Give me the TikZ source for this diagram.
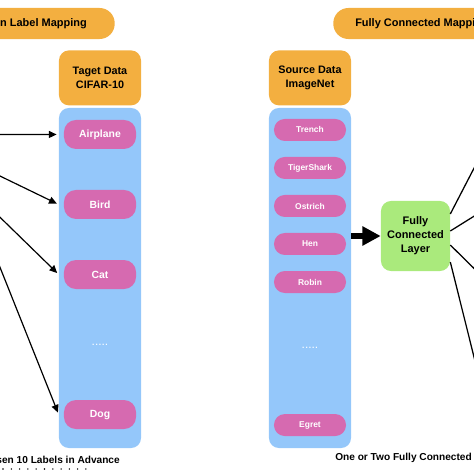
\documentclass[tikz,border=0pt]{standalone}
\usepackage{fontspec}
\setmainfont{Liberation Sans}
\usetikzlibrary{matrix,positioning,arrows.meta}
\definecolor{myorange}{RGB}{243,175,64}
\definecolor{myblue}{RGB}{148,199,250}
\definecolor{mypink}{RGB}{214,106,176}
\definecolor{mygreen}{RGB}{170,234,124}

\begin{document}
\begin{tikzpicture}[x=0.025cm,y=-0.025cm,
  banner/.style={fill=myorange,rounded corners=0.38cm,minimum height=0.775cm,
    inner xsep=0.7cm,inner ysep=0pt,font=\fontsize{7.8}{9}\selectfont\bfseries},
  hdbox/.style={fill=myorange,rounded corners=0.25cm,minimum width=2.05cm,
    minimum height=1.375cm,align=center,font=\fontsize{7.7}{10}\selectfont\bfseries},
  colbox/.style={fill=myblue,rounded corners=0.25cm,minimum width=2.05cm,minimum height=8.5cm},
  pmat/.style={matrix of nodes,inner sep=0pt,
    nodes={fill=mypink,text=white,minimum width=1.8cm}},
  dotsnode/.style={fill=none,font=\fontsize{8.5}{9}\selectfont},
  fcbox/.style={fill=mygreen,rounded corners=0.25cm,minimum width=1.725cm,
    minimum height=1.75cm,align=center,font=\fontsize{7.8}{10}\selectfont\bfseries},
  caption/.style={inner sep=0pt,font=\fontsize{7.2}{9}\selectfont\bfseries},
  farrow/.style={-{Triangle[length=5.5pt,width=5pt]},line width=0.85pt,shorten >=1.5pt},
  bigarrow/.style={-{Triangle[length=13pt,width=13pt]},line width=4pt},
  fcline/.style={line width=0.9pt}]

  \useasboundingbox (0,0) rectangle (474,474);
  \clip (0,0) rectangle (474,474);

  % banners on top
  \node[banner,anchor=east] (lban) at (115,23.5) {n Label Mapping};
  \node[banner,anchor=west,inner xsep=0.55cm] (rban) at (333,23.5) {Fully Connected Mappi};

  % target column
  \node[colbox] (tcol) at (100,278) {};
  \node[hdbox,above=0.05cm of tcol] (thd) {Taget Data\\CIFAR-10};
  \matrix[pmat,below=0.3cm of tcol.north,row sep=1.025cm,
    nodes={rounded corners=0.3cm,minimum height=0.725cm,font=\fontsize{7.4}{9}\selectfont\bfseries}] (tgt) {
    Airplane\\
    Bird\\
    Cat\\
    |[dotsnode]| .....\\
    Dog\\};

  % source column
  \node[colbox] (scol) at (310,278) {};
  \node[hdbox,above=0.05cm of scol] (shd) {Source Data\\ImageNet};
  \matrix[pmat,below=0.275cm of scol.north,row sep=0.4cm,
    nodes={rounded corners=0.27cm,minimum height=0.55cm,font=\fontsize{6}{7}\selectfont\bfseries}] (src) {
    Trench\\
    TigerShark\\
    Ostrich\\
    Hen\\
    Robin\\[0.7cm]
    |[dotsnode]| .....\\[0.975cm]
    Egret\\};

  \node[fcbox] (fc) at (415.5,236) {Fully\\Connected\\Layer};

  % captions
  \node[caption,anchor=east] (lcap) at (120,460) {sen 10 Labels in Advance};
  \node[caption,anchor=west] (rcap) at (335,458) {One or Two Fully Connected};
  \coordinate (dl1) at (3,469);
  \coordinate (dl2) at (90,469);
  \draw[line width=1.1pt,line cap=round,dash pattern=on 0pt off 5.9pt] (dl1) -- (dl2);

  % label mapping arrows
  \coordinate (la1) at (-30,134.5);
  \coordinate (la2) at (-30,161.5);
  \coordinate (la3) at (-30,188);
  \coordinate (la4) at (-30,192);
  \draw[farrow] (la1) -- (tgt-1-1.west -| tcol.west);
  \draw[farrow] (la2) -- (tgt-2-1.west -| tcol.west);
  \draw[farrow] (la3) -- (tgt-3-1.west -| tcol.west);
  \draw[farrow] (la4) -- (tgt-5-1.west -| tcol.west);

  \draw[bigarrow] (scol.east |- fc.west) -- (fc.west);

  % lines out of the layer
  \coordinate (fo1) at (500,118);
  \coordinate (fo2) at (500,200);
  \coordinate (fo3) at (500,294);
  \coordinate (fo4) at (500,461);
  \draw[fcline] ([yshift=0.55cm]fc.east) -- (fo1);
  \draw[fcline] ([yshift=0.125cm]fc.east) -- (fo2);
  \draw[fcline] ([yshift=-0.225cm]fc.east) -- (fo3);
  \draw[fcline] ([yshift=-0.65cm]fc.east) -- (fo4);

\end{tikzpicture}
\end{document}
